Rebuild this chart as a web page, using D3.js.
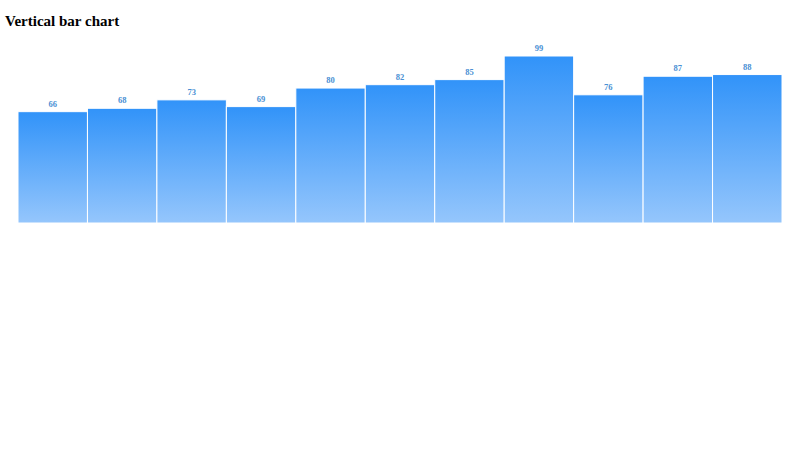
<!DOCTYPE html>
<html>
<head>
<meta charset="utf-8">
<script src="https://cdn.jsdelivr.net/npm/d3@7"></script>
<style>
	body { margin: 0; background: #fff; }
	svg { position: absolute; left: 0; top: 0; }
</style>
</head>
<body>
<div id="chart"></div>
<script>
const title = 'Vertical bar chart';
const categories = ['A', 'B', 'C', 'D', 'E', 'F', 'G', 'H', 'I', 'J', 'K'];
const values = [66, 68, 73, 69, 80, 82, 85, 99, 76, 87, 88];

let margin = {top: 56, left: 18, right: 18};
let chartHeight = 167;

let svg = d3.select('#chart').append('svg')
			.attr('width', 800)
			.attr('height', 450);

svg.append('text')
	.attr('x', 5)
	.attr('y', 26)
	.text(title)
	.style('font-family', "'Liberation Serif', serif")
	.style('font-size', '15px')
	.style('font-weight', 'bold')
	.style('fill', '#000');

let grad = svg.append('defs').append('linearGradient')
			.attr('id', 'barGrad')
			.attr('x1', 0).attr('y1', 0)
			.attr('x2', 0).attr('y2', 1);
grad.append('stop').attr('offset', '0%').attr('stop-color', '#3193f9');
grad.append('stop').attr('offset', '100%').attr('stop-color', '#95c6fc');

let x = d3.scaleBand()
			.domain(categories)
			.range([margin.left, 800 - margin.right]);
let y = d3.scaleLinear()
			.domain([0, d3.max(values)])
			.range([margin.top + chartHeight, margin.top]);

let g = svg.append('g');
let bar = g.selectAll('.bar')
			.data(values)
			.enter().append('g').attr('class', 'bar');
bar.append('rect')
	.attr('x', (d, i) => x(categories[i]))
	.attr('y', (d) => y(d))
	.attr('width', x.bandwidth())
	.attr('height', (d) => y(0) - y(d))
	.style('fill', 'url(#barGrad)')
	.style('stroke', '#fff')
	.style('stroke-width', 1);
bar.append('text')
	.attr('x', (d, i) => x(categories[i]) + x.bandwidth() / 2)
	.attr('y', (d) => y(d) - 5)
	.attr('text-anchor', 'middle')
	.text((d) => d)
	.style('font-family', "'Liberation Serif', serif")
	.style('font-size', '8.5px')
	.style('font-weight', 'bold')
	.style('fill', '#4a90d4');
</script>
</body>
</html>
